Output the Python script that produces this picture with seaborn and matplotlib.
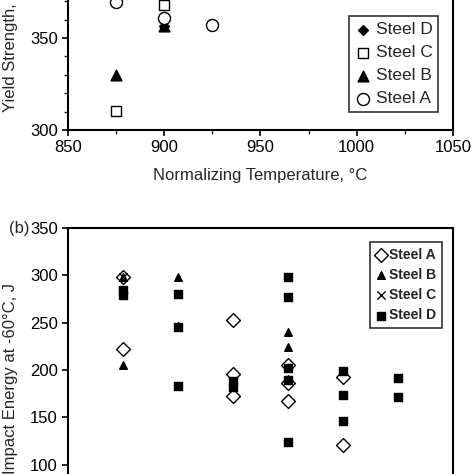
import matplotlib
matplotlib.use("Agg")
import matplotlib.pyplot as plt
import seaborn as sns
import pandas as pd

sns.set_style("ticks")
plt.rcParams['font.family'] = ['Liberation Sans', 'DejaVu Sans']

# Panel (a): yield strength vs normalizing temperature
a_steel = ["Steel A", "Steel A", "Steel A", "Steel C", "Steel C", "Steel B", "Steel B", "Steel D"]
a_temp = [875, 900, 925, 875, 900, 875, 900, 900]
a_ys = [369.6, 361, 357, 310.3, 368, 330, 356.5, 356.5]

# Panel (b): impact energy at -60C
b_steel = (["Steel A"]*2 + ["Steel B"]*2 + ["Steel C"] + ["Steel D"]*2
           + ["Steel B"]*2 + ["Steel D"]*3
           + ["Steel A"]*3 + ["Steel D"]*2
           + ["Steel D"]*5 + ["Steel B"]*3 + ["Steel A"]*3 + ["Steel C"]
           + ["Steel D"]*3 + ["Steel A"]*2
           + ["Steel D"]*2)
b_col = ([1]*7 + [2]*5 + [3]*5 + [4]*12 + [5]*5 + [6]*2)
b_energy = ([298, 222, 205, 298, 298, 285, 279,
             298, 246, 280, 183, 245,
             253, 196, 173, 188, 182,
             298, 277, 202, 124, 189, 240, 224, 190, 205, 186, 167, 189,
             199, 174, 146, 193, 121,
             191, 171])

fig = plt.figure(figsize=(4.74, 4.74), dpi=100)

# ---- top panel
ax1 = fig.add_axes([0.1435, 0.7257, 0.812, 0.388])
dfa = pd.DataFrame({"steel": a_steel, "T": a_temp, "YS": a_ys})
order_a = ["Steel D", "Steel C", "Steel B", "Steel A"]
mk_a = {"Steel D": "D", "Steel C": "s", "Steel B": "^", "Steel A": "o"}
fc_a = {"Steel D": "black", "Steel C": "white", "Steel B": "black", "Steel A": "white"}
sz_a = {"Steel D": 25, "Steel C": 45, "Steel B": 60, "Steel A": 75}
for s in order_a:
    d = dfa[dfa.steel == s]
    sns.scatterplot(data=d, x="T", y="YS", marker=mk_a[s], s=sz_a[s], color=fc_a[s],
                    edgecolor="black", linewidth=1, ax=ax1, label=s, zorder=3)
ax1.set_xlim(850, 1050)
ax1.set_ylim(300, 400)
ax1.set_xticks([850, 900, 950, 1000, 1050])
ax1.set_xticks([875, 925, 975, 1025], minor=True)
ax1.set_yticks([300, 350, 400])
ax1.set_yticks([310, 320, 330, 340, 360, 370, 380, 390], minor=True)
ax1.tick_params(labelsize=12, direction="out", length=4, width=1.2, colors="black")
ax1.tick_params(which="minor", length=3, width=1)
ax1.set_xlabel("Normalizing Temperature, °C", fontsize=12, labelpad=9)
ax1.set_ylabel("Yield Strength, MPa", fontsize=12)
ax1.yaxis.set_label_coords(-0.13, 0.5)
for sp in ax1.spines.values():
    sp.set_linewidth(1.5); sp.set_color("black")
leg = ax1.legend(loc="lower right", bbox_to_anchor=(0.985, 0.05), fontsize=12.5,
                 frameon=True, fancybox=False, edgecolor="black", handletextpad=0.2,
                 handlelength=1.0, borderpad=0.35, labelspacing=0.45)
leg.get_frame().set_linewidth(1.2)

# ---- bottom panel
ax2 = fig.add_axes([0.1435, -0.080, 0.812, 0.599])
dfb = pd.DataFrame({"steel": b_steel, "col": b_col, "E": b_energy})
order_b = ["Steel A", "Steel B", "Steel C", "Steel D"]
mk_b = {"Steel A": "D", "Steel B": "^", "Steel C": "x", "Steel D": "s"}
fc_b = {"Steel A": "white", "Steel B": "black", "Steel C": "black", "Steel D": "black"}
sz_b = {"Steel A": 50, "Steel B": 30, "Steel C": 35, "Steel D": 28}
for s in order_b:
    d = dfb[dfb.steel == s]
    kw = dict(edgecolor="black") if s != "Steel C" else {}
    sns.scatterplot(data=d, x="col", y="E", marker=mk_b[s], s=sz_b[s], color=fc_b[s],
                    linewidth=1, ax=ax2, label=s, zorder=3, **kw)
ax2.set_xlim(0, 7)
ax2.set_ylim(50, 350)
ax2.set_xticks([])
ax2.set_xlabel("")
ax2.set_yticks([100, 150, 200, 250, 300, 350])
ax2.tick_params(labelsize=12, direction="out", length=4, width=1.2, colors="black")
ax2.set_ylabel("Impact Energy at -60°C, J", fontsize=12)
ax2.yaxis.set_label_coords(-0.13, 0.47)
for sp in ax2.spines.values():
    sp.set_linewidth(1.5); sp.set_color("black")
leg2 = ax2.legend(loc="upper right", bbox_to_anchor=(0.99, 0.975),
                  prop={"size": 10, "weight": "bold"}, frameon=True, fancybox=False,
                  edgecolor="black", handletextpad=0.2, handlelength=0.8,
                  borderpad=0.4, labelspacing=0.45)
leg2.get_frame().set_linewidth(1.2)
fig.text(0.018, 0.508, "(b)", fontsize=12)

fig.savefig("out.png", dpi=100)
